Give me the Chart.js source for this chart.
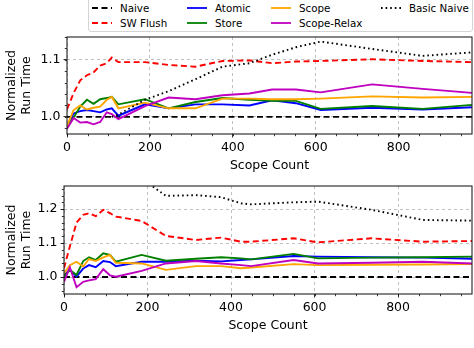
<!DOCTYPE html>
<html>
<head>
<meta charset="utf-8">
<script src="https://cdn.jsdelivr.net/npm/chart.js@4.4.0/dist/chart.umd.min.js"></script>
<style>
  body { margin: 0; background: #fff; font-family: "DejaVu Sans", sans-serif; }
  #wrap { position: relative; width: 474px; height: 348px; overflow: hidden; }
  #wrap canvas { position: absolute; left: 0; }
  #topChart { top: 32px; }
  #bottomChart { top: 182px; }
  .legend-box { position: absolute; left: 88px; top: -5px; width: 385px; height: 37px;
    border: 1px solid #d4d4d4; border-radius: 3px; box-sizing: border-box; background: #fff; }
  .legend-item { position: absolute; height: 12px; font-size: 10.3px; line-height: 12px; color: #000; white-space: nowrap; }
  .legend-item svg { position: absolute; left: 0; top: 4px; }
  .legend-item span { position: absolute; left: 28px; top: 0; }
</style>
</head>
<body>
<div id="wrap">
  <div class="legend-box"></div>
  <div id="legend"></div>
  <canvas id="topChart" width="474" height="150"></canvas>
  <canvas id="bottomChart" width="474" height="166"></canvas>
</div>
<script>
// ---- data ----
const SERIES = ['Naive', 'SW Flush', 'Atomic', 'Store', 'Scope', 'Scope-Relax', 'Basic Naive'];

// top panel
const scopeCountTop = [0, 16, 32, 48, 64, 80, 96, 108, 124, 188, 245, 310, 375, 440, 495, 552, 612, 736, 858, 977];
const naiveTop      = [1.0, 1.0, 1.0, 1.0, 1.0, 1.0, 1.0, 1.0, 1.0, 1.0, 1.0, 1.0, 1.0, 1.0, 1.0, 1.0, 1.0, 1.0, 1.0, 1.0];
const swFlushTop    = [1.013, 1.042, 1.064, 1.073, 1.078, 1.090, 1.094, 1.104, 1.096, 1.096, 1.091, 1.088, 1.098, 1.099, 1.094, 1.097, 1.098, 1.101, 1.098, 1.096];
const atomicTop     = [0.982, 1.006, 1.010, 1.012, 1.010, 1.008, 1.013, 1.015, 1.002, 1.022, 1.015, 1.022, 1.022, 1.020, 1.029, 1.024, 1.012, 1.016, 1.013, 1.017];
const storeTop      = [0.982, 0.999, 1.018, 1.030, 1.023, 1.031, 1.033, 1.035, 1.022, 1.031, 1.015, 1.026, 1.033, 1.030, 1.028, 1.028, 1.014, 1.019, 1.014, 1.021];
const scopeTop      = [0.984, 1.012, 1.020, 1.013, 1.016, 1.018, 1.030, 1.035, 1.015, 1.025, 1.015, 1.015, 1.032, 1.032, 1.031, 1.031, 1.032, 1.036, 1.034, 1.035];
const scopeRelaxTop = [0.979, 0.998, 0.990, 0.991, 0.987, 0.991, 1.008, 1.005, 0.996, 1.019, 1.034, 1.031, 1.038, 1.041, 1.048, 1.048, 1.043, 1.057, 1.049, 1.042];
const basicNaiveTop = [null, null, null, null, null, null, null, 1.000, 1.004, 1.030, 1.045, 1.066, 1.088, 1.094, 1.109, 1.122, 1.132, 1.119, 1.107, 1.113];

// bottom panel
const scopeCountBottom = [0, 14, 30, 46, 60, 76, 94, 110, 124, 186, 244, 316, 376, 424, 448, 550, 608, 736, 860, 977];
const naiveBottom      = [1.0, 1.0, 1.0, 1.0, 1.0, 1.0, 1.0, 1.0, 1.0, 1.0, 1.0, 1.0, 1.0, 1.0, 1.0, 1.0, 1.0, 1.0, 1.0, 1.0];
const swFlushBottom    = [1.026, 1.090, 1.160, 1.183, 1.188, 1.179, 1.198, 1.188, 1.178, 1.165, 1.121, 1.109, 1.116, 1.104, 1.104, 1.114, 1.102, 1.114, 1.104, 1.106];
const atomicBottom     = [1.006, 1.021, 1.001, 1.025, 1.035, 1.029, 1.047, 1.044, 1.032, 1.045, 1.045, 1.048, 1.046, 1.050, 1.052, 1.062, 1.060, 1.058, 1.057, 1.054];
const storeBottom      = [1.001, 1.021, 1.006, 1.047, 1.058, 1.050, 1.070, 1.065, 1.045, 1.065, 1.048, 1.054, 1.058, 1.055, 1.052, 1.068, 1.055, 1.057, 1.058, 1.060];
const scopeBottom      = [1.011, 1.035, 1.045, 1.031, 1.053, 1.047, 1.058, 1.065, 1.042, 1.040, 1.021, 1.032, 1.032, 1.026, 1.028, 1.038, 1.035, 1.036, 1.037, 1.038];
const scopeRelaxBottom = [0.986, 1.029, 0.970, 0.986, 0.990, 0.994, 1.023, 1.005, 1.001, 1.018, 1.040, 1.047, 1.040, 1.035, 1.032, 1.050, 1.040, 1.042, 1.045, 1.040];
const basicNaiveBottom = [null, null, null, null, null, null, null, null, null, 1.290, 1.239, 1.241, 1.235, 1.217, 1.214, 1.220, 1.222, 1.198, 1.168, 1.166];

// axes
const xTicks = [0, 200, 400, 600, 800];
const yTicksTop = [1.0, 1.1];
const yTicksBottom = [1.0, 1.1, 1.2];

// ---- styles ----
const STYLE = {
    'Naive':       { color: '#000000', dash: [6, 3.5] },
    'SW Flush':    { color: '#ff0000', dash: [6, 3.5] },
    'Atomic':      { color: '#0000ff', dash: [] },
    'Store':       { color: '#008000', dash: [] },
    'Scope':       { color: '#ffa500', dash: [] },
    'Scope-Relax': { color: '#bf00bf', dash: [] },
    'Basic Naive': { color: '#000000', dash: [1.6, 3] },
};

// legend laid out in columns like the original
const LEGEND_POS = {
    'Naive':       [92, 2],  'SW Flush':    [92, 17],
    'Atomic':      [187, 2], 'Store':       [187, 17],
    'Scope':       [271, 2], 'Scope-Relax': [271, 17],
    'Basic Naive': [381, 2],
};

const FONT = '"DejaVu Sans", sans-serif';

function buildLegend() {
    const el = document.getElementById('legend');
    el.innerHTML = SERIES.map(name => {
        const s = STYLE[name];
        const [left, top] = LEGEND_POS[name];
        const dash = s.dash.length ? `stroke-dasharray="${s.dash.join(',')}"` : '';
        return `<div class="legend-item" style="left:${left}px;top:${top}px;">
            <svg width="20" height="4"><line x1="0" y1="2" x2="20" y2="2" stroke="${s.color}" stroke-width="1.8" ${dash}/></svg>
            <span>${name}</span></div>`;
    }).join('');
}

// full box around the plot + matplotlib-style minor ticks
const frameAndMinor = {
    id: 'frameAndMinor',
    afterDraw(chart, args, opts) {
        const { ctx, chartArea: a, scales: { x, y } } = chart;
        ctx.save();
        ctx.strokeStyle = '#000';
        ctx.lineWidth = 0.8;
        ctx.beginPath();
        for (let i = Math.ceil(x.min / opts.xMinor - 1e-9); i * opts.xMinor <= x.max + 1e-9; i++) {
            const px = Math.round(x.getPixelForValue(i * opts.xMinor)) + 0.5;
            ctx.moveTo(px, a.bottom);
            ctx.lineTo(px, a.bottom + 2.2);
        }
        for (let i = Math.ceil(y.min / opts.yMinor - 1e-9); i * opts.yMinor <= y.max + 1e-9; i++) {
            const py = Math.round(y.getPixelForValue(i * opts.yMinor)) + 0.5;
            ctx.moveTo(a.left, py);
            ctx.lineTo(a.left - 2.2, py);
        }
        ctx.stroke();
        ctx.lineWidth = 1.1;
        ctx.strokeStyle = '#222';
        ctx.strokeRect(a.left, a.top, a.right - a.left, a.bottom - a.top);
        ctx.restore();
    }
};

function makeChart(id, xs, seriesValues, yMin, yMax, yTicks, yWidth, padding) {
    const datasets = SERIES.map((name, i) => ({
        label: name,
        data: xs.map((x, j) => ({ x: x, y: seriesValues[i][j] })),
        borderColor: STYLE[name].color,
        borderDash: STYLE[name].dash,
        borderWidth: 1.9,
        pointRadius: 0,
        tension: 0,
        fill: false,
        spanGaps: false,
        order: SERIES.length - i,   // later series drawn on top, like matplotlib
    }));

    return new Chart(document.getElementById(id), {
        type: 'line',
        data: { datasets },
        plugins: [frameAndMinor],
        options: {
            responsive: false,
            animation: false,
            events: [],
            layout: { padding },
            plugins: {
                legend: { display: false },
                tooltip: { enabled: false },
                frameAndMinor: { xMinor: 50, yMinor: 0.02 },
            },
            scales: {
                x: {
                    type: 'linear',
                    min: 0, max: 977,
                    afterBuildTicks: s => { s.ticks = xTicks.map(v => ({ value: v })); },
                    afterFit: s => { s.height = 48; s.paddingLeft = 0; s.paddingRight = 0; },
                    grid: { color: '#b0b0b0', lineWidth: 0.8, tickColor: '#000', tickLength: 3.5, tickWidth: 0.8 },
                    border: { display: false, dash: [3, 3] },
                    ticks: { color: '#000', font: { family: FONT, size: 12.5 }, padding: 3, maxRotation: 0, callback: v => String(v) },
                    title: { display: true, text: 'Scope Count', color: '#000', font: { family: FONT, size: 12.5 }, padding: { top: 0, bottom: 9 } },
                },
                y: {
                    min: yMin, max: yMax,
                    afterBuildTicks: s => { s.ticks = yTicks.map(v => ({ value: v })); },
                    afterFit: s => { s.width = yWidth; s.paddingTop = 0; s.paddingBottom = 0; },
                    grid: { color: '#b0b0b0', lineWidth: 0.8, tickColor: '#000', tickLength: 3.5, tickWidth: 0.8 },
                    border: { display: false, dash: [3, 3] },
                    ticks: { color: '#000', font: { family: FONT, size: 12.5 }, padding: 3, callback: v => v.toFixed(1) },
                    title: { display: true, text: ['Normalized', 'Run Time'], color: '#000', font: { family: FONT, size: 12.5 }, padding: { top: 4, bottom: 0 } },
                },
            },
        },
    });
}

buildLegend();

makeChart('topChart', scopeCountTop,
    [naiveTop, swFlushTop, atomicTop, storeTop, scopeTop, scopeRelaxTop, basicNaiveTop],
    0.97, 1.14, yTicksTop, 67, { top: 5, right: 2, bottom: 0, left: 0 });

makeChart('bottomChart', scopeCountBottom,
    [naiveBottom, swFlushBottom, atomicBottom, storeBottom, scopeBottom, scopeRelaxBottom, basicNaiveBottom],
    0.95, 1.268, yTicksBottom, 64, { top: 4, right: 2, bottom: 6, left: 0 });
</script>
</body>
</html>
